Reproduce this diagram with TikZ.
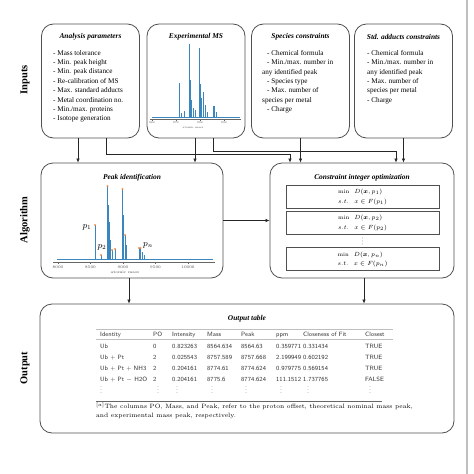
\documentclass[tikz,border=0pt]{standalone}
\usepackage{amsmath, amssymb, bm}
\usepackage{fontspec}
\newfontfamily\timesfont{Liberation Serif}
\usetikzlibrary{arrows.meta}
\definecolor{specBlue}{HTML}{3A86BE}
\definecolor{specOrange}{HTML}{F08A3C}
\definecolor{frameGray}{HTML}{505050}
\tikzstyle{stageBox}=[draw = frameGray, line width = 0.8pt, rounded corners = 12pt, inner sep = 0pt]
\tikzstyle{boxTitle}=[font = \timesfont\fontsize{7.4}{9}\selectfont\bfseries\itshape, inner sep = 0pt]
\tikzstyle{itemText}=[font = \timesfont\fontsize{7.2}{9.38}\selectfont, align = left, inner sep = 0pt, anchor = north west]
\tikzstyle{rowLabel}=[font = \timesfont\fontsize{10.5}{12}\selectfont\bfseries, rotate = 90, inner sep = 0pt]
\tikzstyle{flowArrow}=[draw = black!85, line width = 0.6pt, -{Latex[length=4pt, width=3.4pt]}]

\begin{document}
\begin{tikzpicture}[x = 1pt, y = -1pt]
\tikzstyle{tickText}=[font = \fontsize{3.9}{4}\selectfont, text = black!70, inner sep = 0pt]
\tikzstyle{smallTick}=[font = \fontsize{2.8}{3}\selectfont, text = black!70, inner sep = 0pt]
\tikzstyle{specLine}=[draw = specBlue, line width = 0.45pt]
\tikzstyle{peakMark}=[draw = specOrange, line width = 0.3pt]
\tikzstyle{probBox}=[draw = frameGray, line width = 0.6pt, minimum width = 153pt, minimum height = 23pt, inner sep = 0pt, font = \fontsize{5.6}{6.5}\selectfont]
\tikzstyle{tabRule}=[draw = black!25, line width = 0.5pt]
\useasboundingbox (0,0) rectangle (474,474);
\fill[white] (0,0) rectangle (474,474);
\draw[black!25, line width = 1.5pt] (467,0) -- (467,474);

\node[rowLabel] (inLabel) at (25,80) {Inputs};
\node[rowLabel] (algLabel) at (25,220) {Algorithm};
\node[rowLabel] (outLabel) at (25,368) {Output};

\node[stageBox, minimum width = 98pt, minimum height = 114pt] (ap) at (90.5,81) {};
\node[stageBox, minimum width = 98pt, minimum height = 114pt] (ems) at (196,81) {};
\node[stageBox, minimum width = 98pt, minimum height = 114pt] (spc) at (300.5,81) {};
\node[stageBox, minimum width = 98pt, minimum height = 114pt] (sac) at (403.5,81) {};
\node[stageBox, minimum width = 182pt, minimum height = 115pt] (pk) at (132,220.5) {};
\node[stageBox, minimum width = 184pt, minimum height = 115pt] (cio) at (362,220.5) {};
\node[stageBox, minimum width = 414pt, minimum height = 129pt] (out) at (247,368.5) {};

\node[boxTitle] (apTitle) at (90.5,37) {Analysis parameters};
\node[boxTitle] (emsTitle) at (196,37) {Experimental MS};
\node[boxTitle] (spcTitle) at (300.5,37) {Species constraints};
\node[boxTitle] (sacTitle) at (403.5,37) {Std. adducts constraints};
\node[itemText] (apText) at (53,50) {- Mass tolerance\\- Min. peak height\\- Min. peak distance\\- Re-calibration of MS\\- Max. standard adducts\\- Metal coordination no.\\- Min./max. proteins\\- Isotope generation};
\node[itemText] (spcText) at (262,50) {\hspace*{5pt}- Chemical formula\\\hspace*{5pt}- Min./max. number in\\any identified peak\\\hspace*{5pt}- Species type\\\hspace*{5pt}- Max. number of\\species per metal\\\hspace*{5pt}- Charge};
\node[itemText] (sacText) at (367,50) {- Chemical formula\\- Min./max. number in\\any identified peak\\- Max. number of\\species per metal\\- Charge};

% experimental spectrum
\draw[black!60, line width = 0.3pt] (150,119) -- (241,119);
\foreach \t/\lab in {152/860, 176/870, 200/880, 224/890} {
  \draw[black!60, line width = 0.3pt] (\t,119) -- (\t,120.5);
  \node[smallTick] at (\t,123) {\lab};
}
\node[smallTick] (emsAxis) at (193,128) {atomic mass};
\draw[specBlue, line width = 0.4pt] (152,117.5) -- (240,117.5);
\foreach \px/\top in {179/83, 181/113, 184/111, 189.5/44, 190.5/80, 191.5/100, 193/108, 195/110, 199.5/48, 200.5/84, 201.5/98, 203/92, 205/105, 207/112, 213/106, 214.5/106, 216/112}
  \draw[specLine] (\px,117.5) -- (\px,\top);

\node[boxTitle] (pkTitle) at (132,178) {Peak identification};
\draw[black!60, line width = 0.3pt] (53,262) -- (215,262);
\foreach \t/\lab in {58/8000, 90.5/8500, 123/9000, 155.5/9500, 188/10000} {
  \draw[black!60, line width = 0.3pt] (\t,262) -- (\t,263.5);
  \node[tickText] at (\t,267) {\lab};
}
\node[tickText] (pkAxis) at (125,272) {atomic mass};
\draw[specBlue, line width = 0.5pt] (57,259) -- (213,259);
\foreach \px/\top in {95/225, 101/255, 107.5/186, 108.5/205, 109.5/222, 110.5/240, 112/250, 115/249, 122.5/189, 123.5/215, 125/235, 126.5/245, 139/248, 140.5/248, 142/252, 144/255}
  \draw[specLine] (\px,259) -- (\px,\top);
\foreach \px/\top in {95/225, 101/255, 107.5/186, 112/250, 115/249, 122.5/189, 125/235, 139/248, 140.5/248}
  \draw[peakMark] (\px,\top) circle (0.8);
\node[inner sep = 0pt, font = \fontsize{9}{10}\selectfont] (p1) at (87,227) {$p_1$};
\node[inner sep = 0pt, font = \fontsize{9}{10}\selectfont] (p2) at (102,247) {$p_2$};
\node[inner sep = 0pt, font = \fontsize{9}{10}\selectfont] (pn) at (148,245) {$p_n$};

\node[boxTitle] (cioTitle) at (362,178) {Constraint integer optimization};
\node[probBox] (q1) at (362.5,196.5) {\renewcommand{\arraystretch}{1.45}\begin{tabular}{@{}l@{\hspace{5pt}}l@{}}min & $D(\bm{x},p_1)$\\ $s.t.$ & $x\in F(p_1)$\end{tabular}};
\node[probBox] (q2) at (362.5,222.5) {\renewcommand{\arraystretch}{1.45}\begin{tabular}{@{}l@{\hspace{5pt}}l@{}}min & $D(\bm{x},p_2)$\\ $s.t.$ & $x\in F(p_2)$\end{tabular}};
\foreach \cy in {238, 241, 244}
  \fill[black!55] (362.5,\cy) circle (0.4);
\node[probBox] (qn) at (362.5,259) {\renewcommand{\arraystretch}{1.45}\begin{tabular}{@{}l@{\hspace{5pt}}l@{}}min & $D(\bm{x},p_n)$\\ $s.t.$ & $x\in F(p_n)$\end{tabular}};

\node[boxTitle] (outTitle) at (247,319) {Output table};
\draw[tabRule] (96,329) -- (393,329);
\draw[tabRule] (96,339.5) -- (393,339.5);
\node[inner sep = 0pt, anchor = north west, text = black!80] (outTable) at (96,329) {\fontsize{6.2}{8}\selectfont\sffamily\renewcommand{\arraystretch}{1.39}%
\begin{tabular}{@{\hspace{4pt}}p{53pt}@{}p{19pt}@{}p{35pt}@{}p{34pt}@{}p{35pt}@{}p{27pt}@{}p{62pt}@{}l@{\hspace{4pt}}}
Identity & PO & Intensity & Mass & Peak & ppm & Closeness of Fit & Closest\\
Ub & 0 & 0.823263 & 8564.634 & 8564.63 & 0.359771 & 0.331434 & TRUE\\
Ub + Pt & 2 & 0.025543 & 8757.589 & 8757.668 & 2.199949 & 0.602192 & TRUE\\
Ub + Pt + NH3 & 2 & 0.204161 & 8774.61 & 8774.624 & 0.979775 & 0.569154 & TRUE\\
Ub + Pt $-$ H2O & 2 & 0.204161 & 8775.6 & 8774.624 & 111.1512 & 1.737765 & FALSE
\end{tabular}};
\foreach \cx in {101, 158, 177, 212, 246, 281, 308, 370}
  \foreach \cy in {386.5, 389.5, 392.5}
    \fill[black!45] (\cx,\cy) circle (0.4);
\draw[black!60, line width = 0.9pt] (96,401) -- (382,401);
\node[inner sep = 0pt, anchor = north west, font = \fontsize{6.2}{8}\selectfont] (noteA) at (96,402.5) {$^{[a]}$The columns PO, Mass, and Peak, refer to the proton offset, theoretical nominal mass peak,};
\node[inner sep = 0pt, anchor = north west, font = \fontsize{6.2}{8}\selectfont] (noteB) at (96,413) {and experimental mass peak, respectively.};

\draw[flowArrow] ([xshift=-12.5pt]ap.south) -- ([xshift=-12.5pt]ap.south |- pk.north);
\draw[flowArrow] ([xshift=15.5pt]ap.south) -- ++(0,16) -| ([xshift=-72pt]cio.north);
\draw[flowArrow] ([xshift=-1pt]ems.south) -- ([xshift=-1pt]ems.south |- pk.north);
\draw[flowArrow] ([xshift=17pt]ems.south) -- ++(0,13) -| ([xshift=34pt]cio.north);
\draw[flowArrow] (spc.south) -- (spc.south |- cio.north);
\draw[flowArrow] (sac.south) -- (sac.south |- cio.north);
\draw[flowArrow] (pk.east) -- (cio.west);
\draw[flowArrow] ([xshift=-3pt]pk.south) -- ([xshift=-3pt]pk.south |- out.north);
\draw[flowArrow] ([xshift=2pt]cio.south) -- ([xshift=2pt]cio.south |- out.north);
\end{tikzpicture}
\end{document}
